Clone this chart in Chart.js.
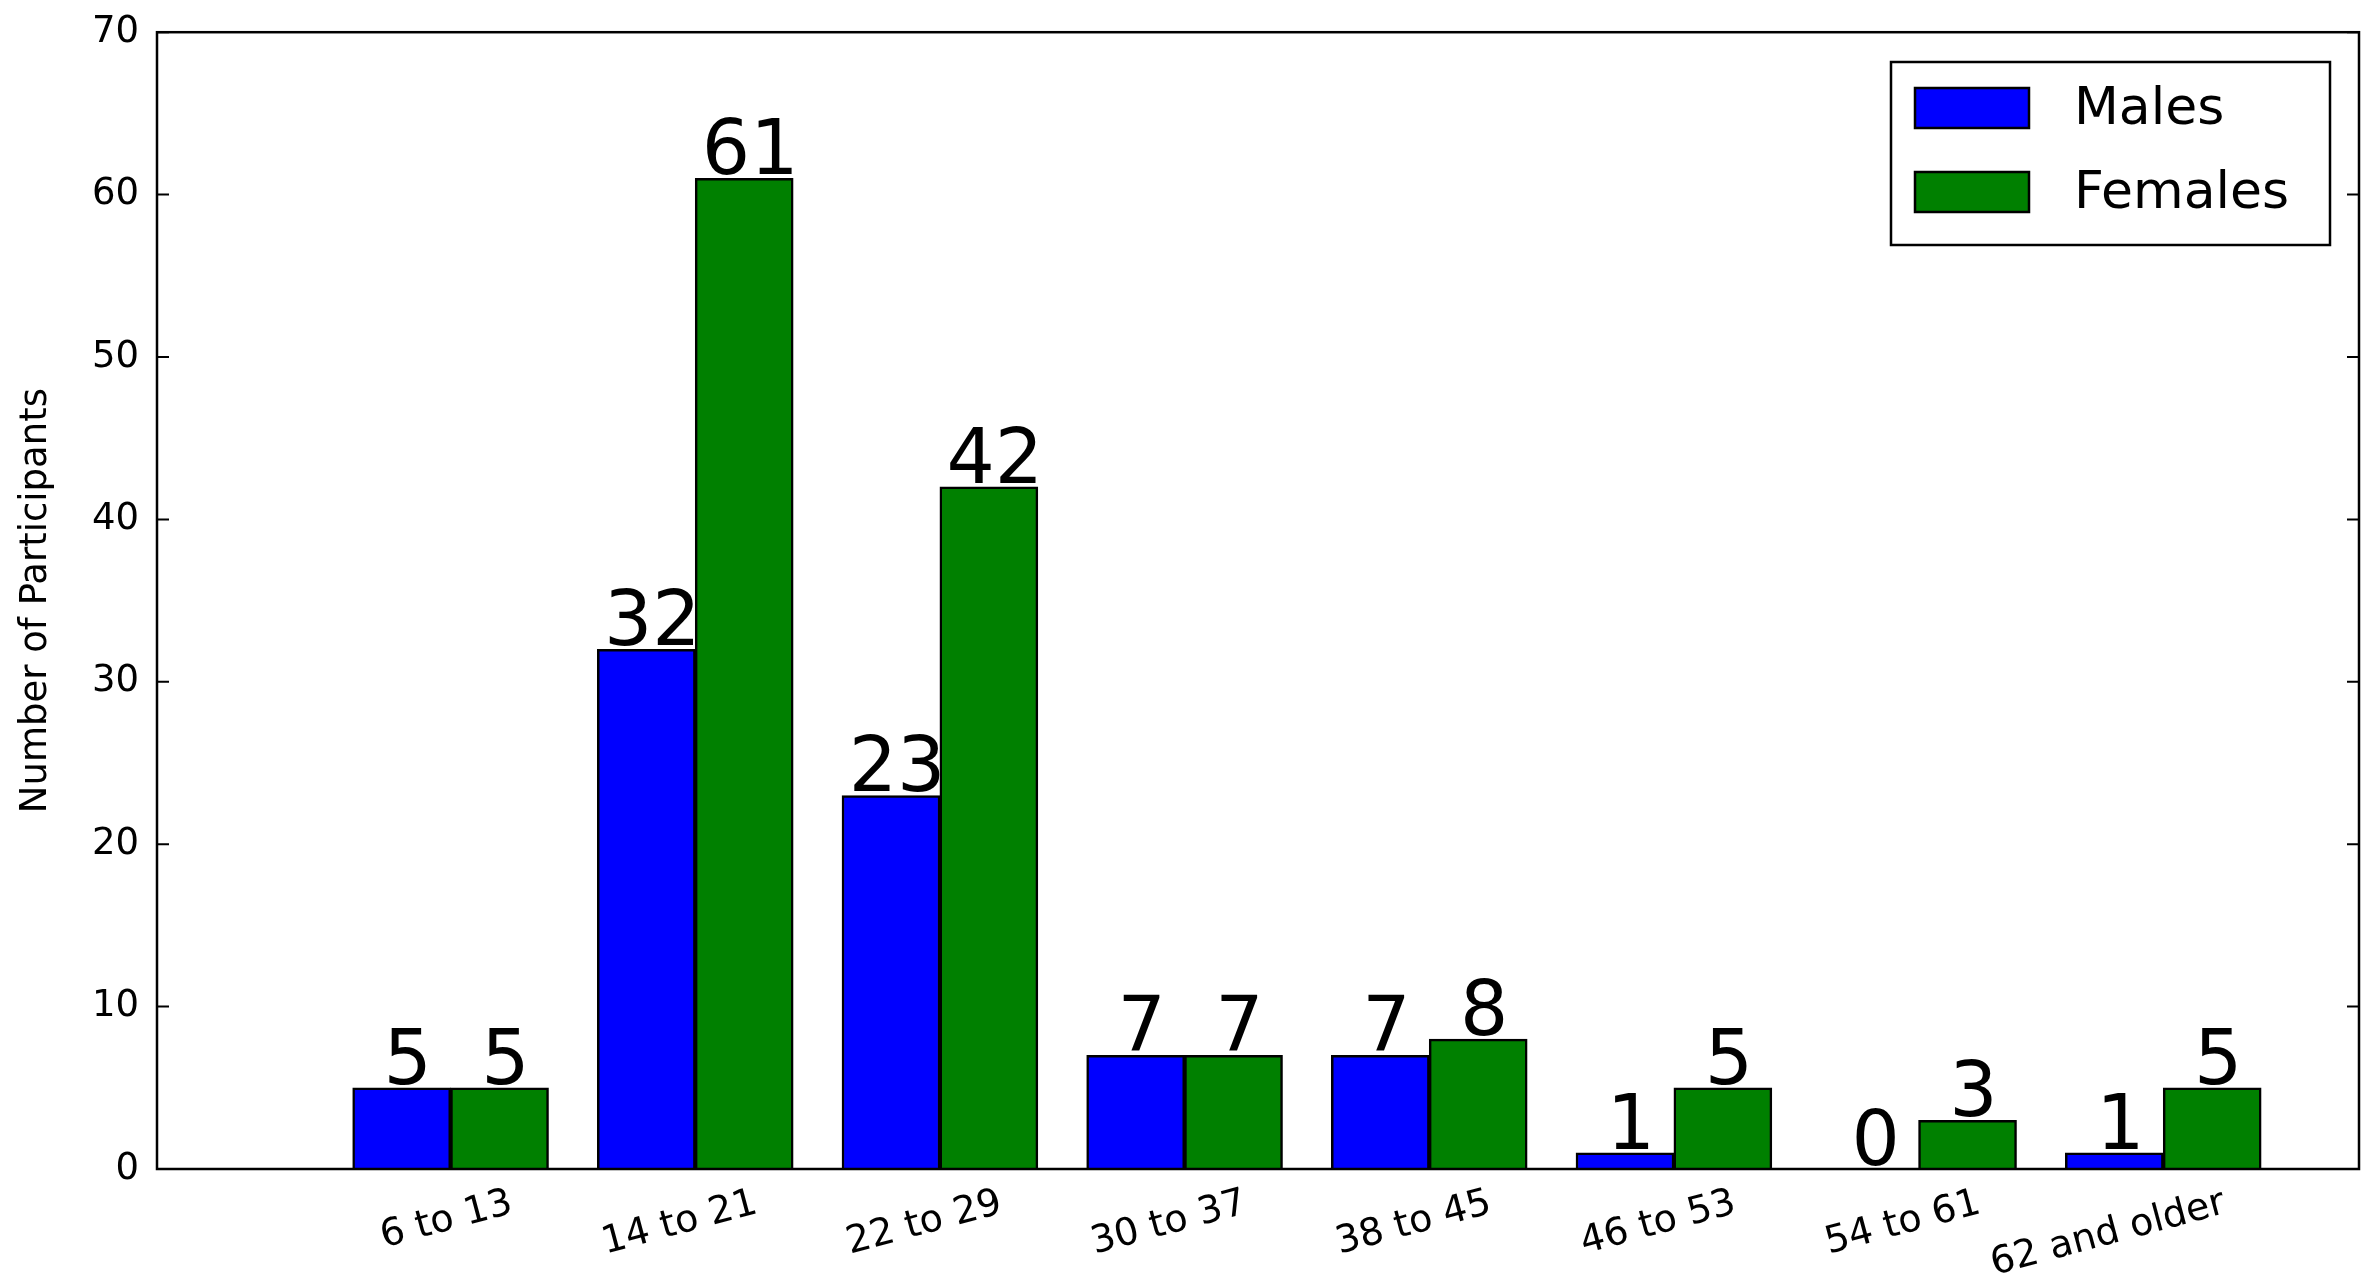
<!DOCTYPE html>
<html><head><meta charset="utf-8">
<script src="https://cdn.jsdelivr.net/npm/chart.js@4/dist/chart.umd.min.js"></script>
<style>html,body{margin:0;padding:0;background:#fff}#c{display:block}</style>
</head><body><canvas id="c" width="2374" height="1279"></canvas>
<script>
const categories = ['6 to 13','14 to 21','22 to 29','30 to 37','38 to 45','46 to 53','54 to 61','62 and older'];
const males = [5,32,23,7,7,1,0,1];
const females = [5,61,42,7,8,5,3,5];
const yTicks = [0,10,20,30,40,50,60,70];
const seriesNames = ['Males','Females'];

const FONT = 'DejaVu Sans';
const boxPlugin = {
  id:'box',
  afterDatasetsDraw(chart){
    const {ctx, chartArea:a, scales} = chart;
    ctx.save();
    ctx.font = `76px ${FONT}`; ctx.fillStyle='#000'; ctx.textAlign='center'; ctx.textBaseline='alphabetic';
    chart.data.datasets.forEach((ds,di)=>{
      chart.getDatasetMeta(di).data.forEach((el,i)=>{
        ctx.fillText(String(ds.data[i].y), el.x+6, el.y-4);
      });
    });
    ctx.strokeStyle='#000'; ctx.lineWidth=2.5;
    ctx.strokeRect(a.left,a.top,a.right-a.left,a.bottom-a.top);
    ctx.lineWidth=2;
    yTicks.forEach(v=>{const y=scales.y.getPixelForValue(v);
      ctx.beginPath();ctx.moveTo(a.left,y);ctx.lineTo(a.left+12,y);ctx.moveTo(a.right,y);ctx.lineTo(a.right-12,y);ctx.stroke();});
    const lx=1891, ly=62, lw=439, lh=183;
    ctx.fillStyle='#fff'; ctx.fillRect(lx,ly,lw,lh);
    ctx.lineWidth=2.5; ctx.strokeRect(lx,ly,lw,lh);
    ctx.font = `52px ${FONT}`; ctx.textAlign='left'; ctx.textBaseline='middle';
    chart.data.datasets.forEach((ds,di)=>{
      const cy = ly+46+di*84;
      ctx.fillStyle=ds.backgroundColor; ctx.fillRect(lx+24,cy-20,114,40);
      ctx.strokeStyle='#000'; ctx.lineWidth=2.5; ctx.strokeRect(lx+24,cy-20,114,40);
      ctx.fillStyle='#000'; ctx.fillText(ds.label, lx+183, cy+2);
    });
    ctx.restore();
  }
};

new Chart(document.getElementById('c'),{
  type:'bar',
  data:{datasets:[
    {label:seriesNames[0], data:males.map((v,i)=>({x:i+1,y:v})), backgroundColor:'#0000ff', borderColor:'#000', borderWidth:2.5, grouped:false, barThickness:98},
    {label:seriesNames[1], data:females.map((v,i)=>({x:i+1.4,y:v})), backgroundColor:'#008000', borderColor:'#000', borderWidth:2.5, grouped:false, barThickness:98}
  ]},
  options:{
    responsive:false, animation:false,
    layout:{padding:{top:32,right:15,left:0,bottom:0}},
    plugins:{legend:{display:false},tooltip:{enabled:false}},
    scales:{
      x:{type:'linear',offset:false,min:0,max:9,grid:{display:false},border:{display:false},
        afterBuildTicks(s){s.ticks=categories.map((c,i)=>({value:i+1.45}));},
        afterFit(s){s.height=110;},
        ticks:{autoSkip:false,minRotation:15,maxRotation:15,color:'#000',font:{family:FONT,size:38},padding:4,
          callback(v){const i=Math.round(v-1.45);return categories[i]??'';}}},
      y:{min:0,max:70,grid:{display:false},border:{display:false},
        afterBuildTicks(s){s.ticks=yTicks.map(v=>({value:v}));},
        afterFit(s){s.width=157;},
        title:{display:true,text:'Number of Participants',color:'#000',font:{family:FONT,size:37},padding:{top:14,bottom:4}},
        ticks:{color:'#000',font:{family:FONT,size:37},padding:10}}
    }
  },
  plugins:[boxPlugin]
});
</script></body></html>
